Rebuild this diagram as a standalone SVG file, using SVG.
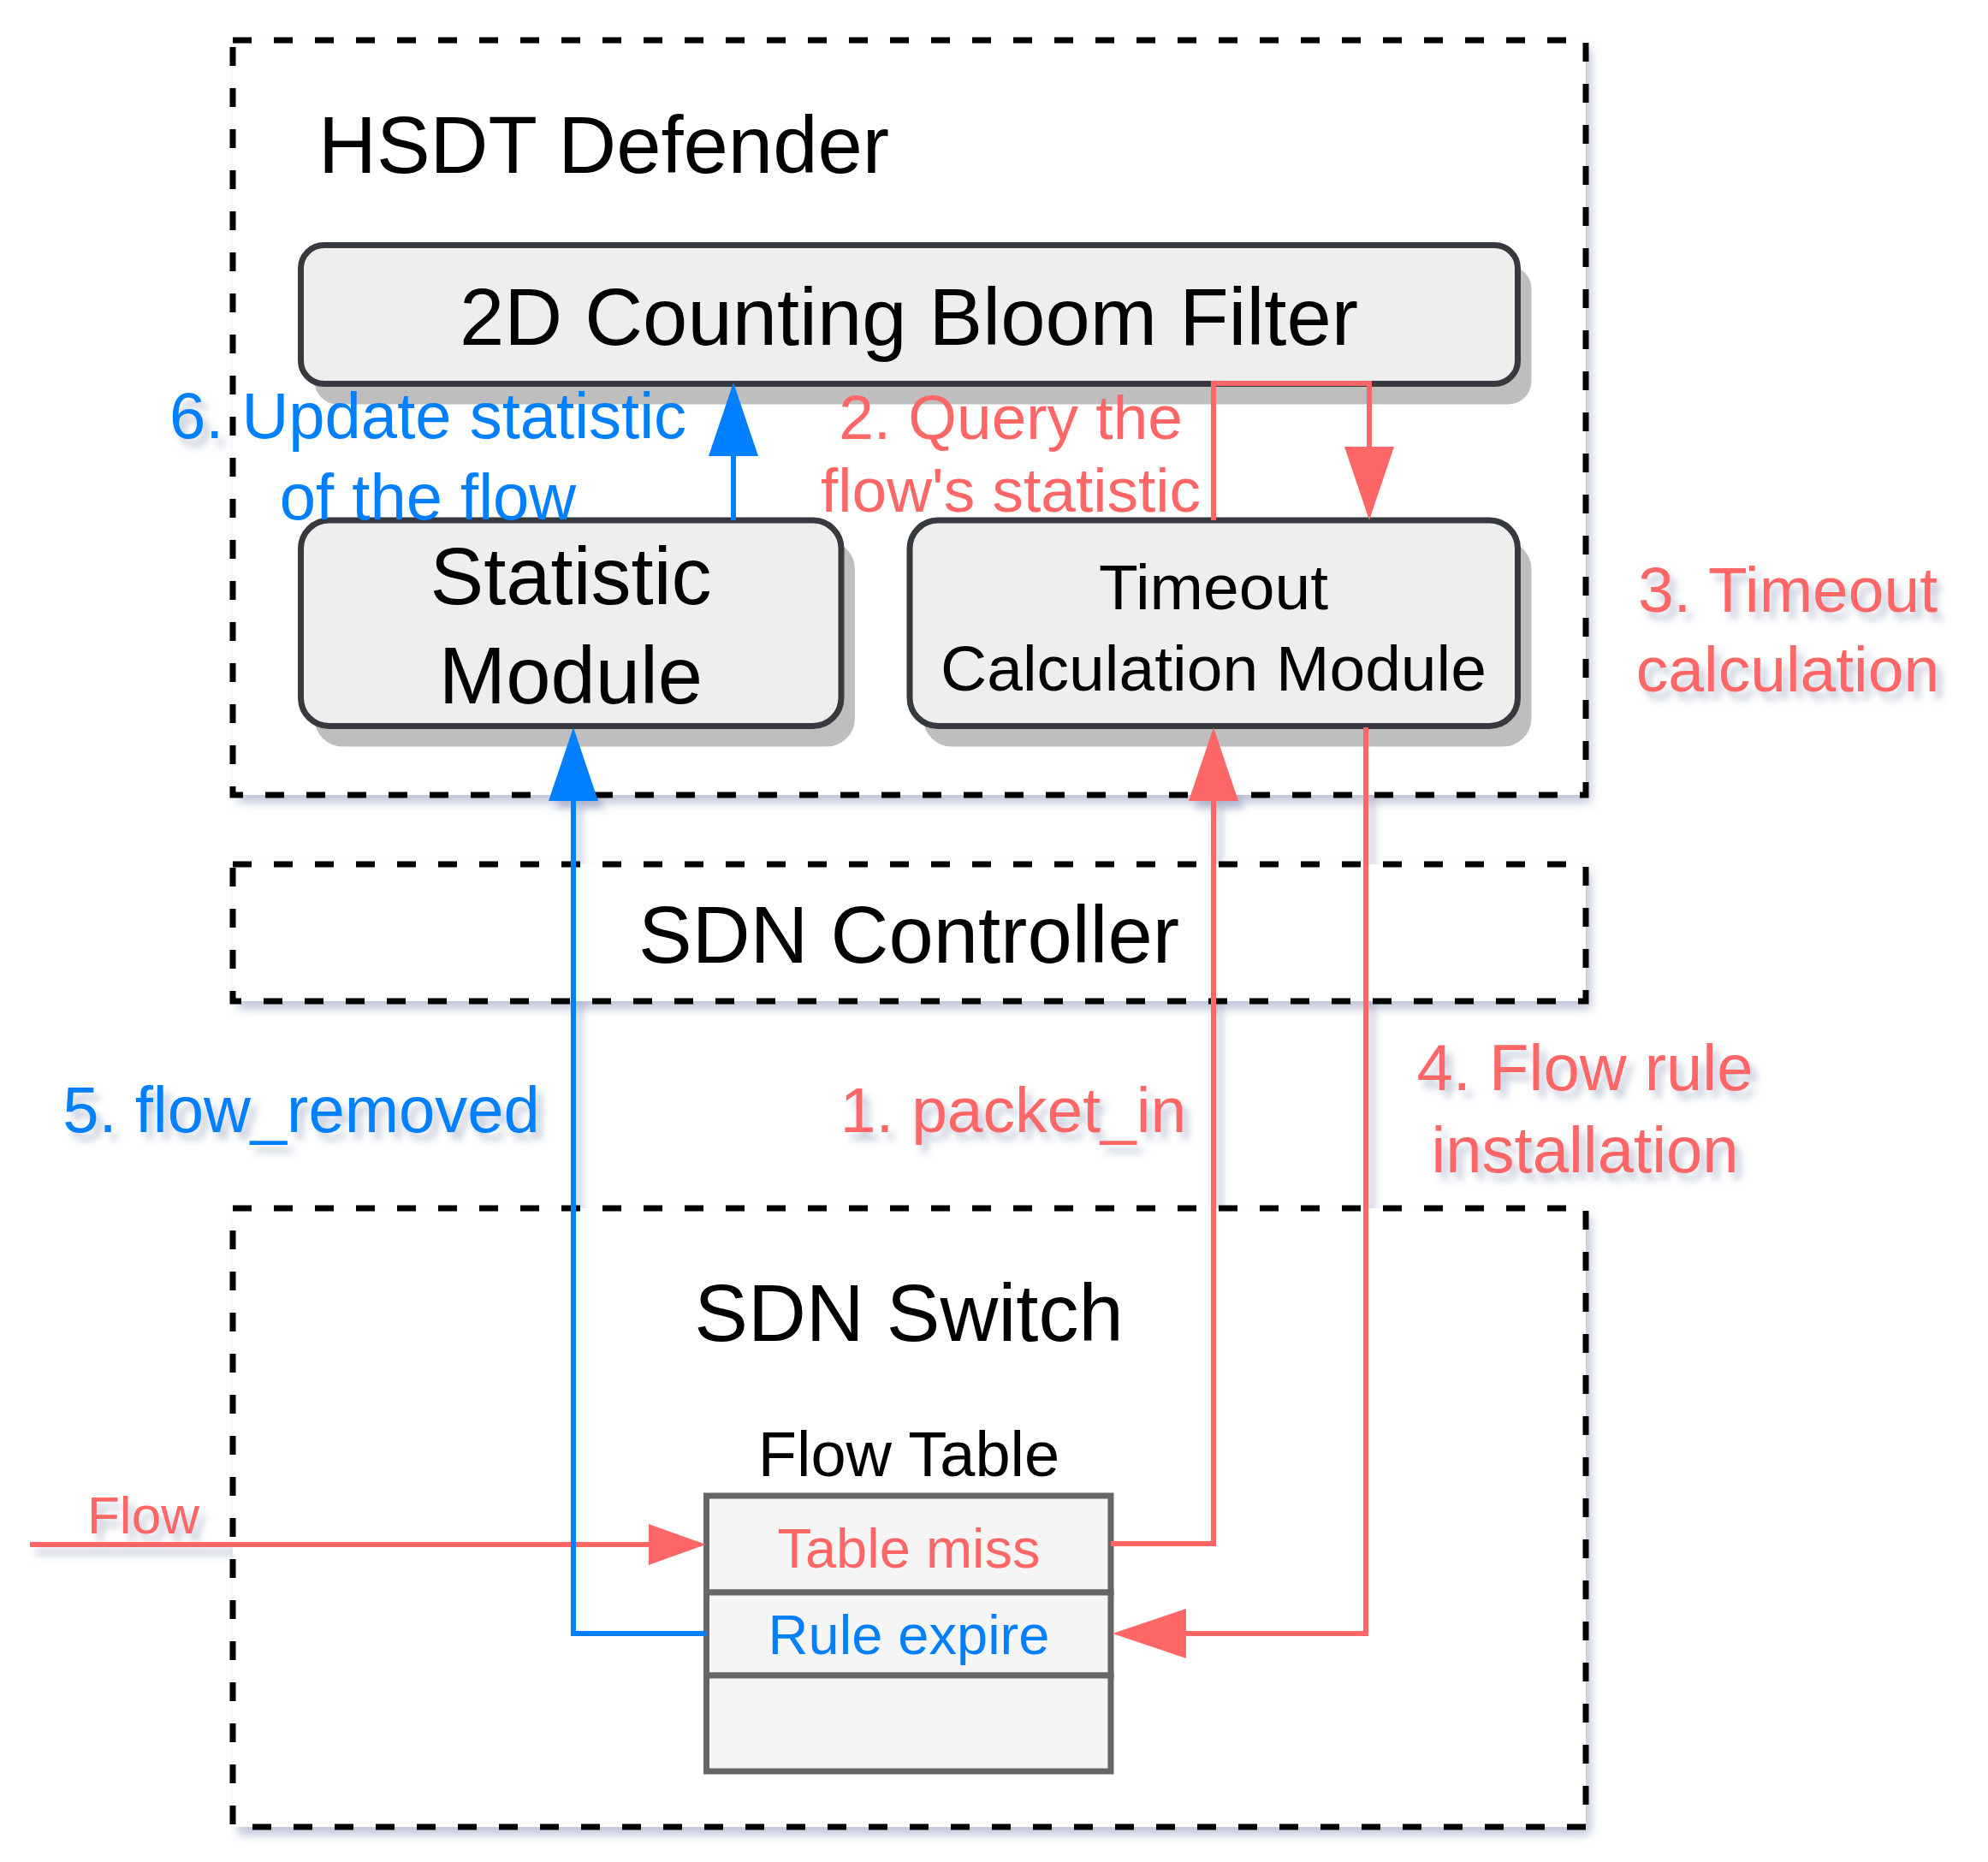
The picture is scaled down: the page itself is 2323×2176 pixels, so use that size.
<svg xmlns="http://www.w3.org/2000/svg" xmlns:xlink="http://www.w3.org/1999/xlink" width="2323" height="2176" viewBox="0 0 2323 2176">
<style>
  text { font-family: "Liberation Sans", Arial, Helvetica, sans-serif; }
  .title { font-size: 94px; fill: #000000; }
  .cont { fill: none; stroke: #000000; stroke-width: 7; stroke-dasharray: 22 26; }
  .contfill { fill: #ffffff; }
  .mod { fill: #eeeeee; stroke: #36393d; stroke-width: 7; }
  .modsh { fill: #bebebe; }
  .cell { fill: #f5f5f5; stroke: #666666; stroke-width: 7; }
  .er { fill: none; stroke: #FF6666; stroke-width: 6; stroke-linejoin: miter; }
  .eb { fill: none; stroke: #007FFF; stroke-width: 6; stroke-linejoin: miter; }
  .lr { fill: #FF6666; }
  .lb { fill: #007FFF; }
</style>
<defs>
  <marker id="ar" markerUnits="userSpaceOnUse" markerWidth="86" markerHeight="58" refX="0" refY="29" orient="auto" overflow="visible">
    <path d="M0,0 L86,29 L0,58 Z" fill="#FF6666"/>
  </marker>
  <marker id="ab" markerUnits="userSpaceOnUse" markerWidth="86" markerHeight="58" refX="0" refY="29" orient="auto" overflow="visible">
    <path d="M0,0 L86,29 L0,58 Z" fill="#007FFF"/>
  </marker>
  <marker id="ars" markerUnits="userSpaceOnUse" markerWidth="67" markerHeight="48" refX="0" refY="24" orient="auto" overflow="visible">
    <path d="M0,0 L67,24 L0,48 Z" fill="#FF6666"/>
  </marker>
  <filter id="soft" x="-10%" y="-10%" width="120%" height="120%">
    <feGaussianBlur in="SourceAlpha" stdDeviation="5"/>
    <feOffset dx="7" dy="9" result="b"/>
    <feFlood flood-color="#8c96b8" flood-opacity="0.55"/>
    <feComposite in2="b" operator="in"/>
  </filter>
  <filter id="boxsh" x="-5%" y="-10%" width="110%" height="125%">
    <feGaussianBlur in="SourceAlpha" stdDeviation="6"/>
    <feOffset dx="6" dy="9" result="b"/>
    <feFlood flood-color="#8c96b8" flood-opacity="0.55"/>
    <feComposite in2="b" operator="in" result="s"/>
    <feMerge><feMergeNode in="s"/><feMergeNode in="SourceGraphic"/></feMerge>
  </filter>
</defs>

<rect x="0" y="0" width="2323" height="2176" fill="#ffffff"/>

<!-- soft shadows of connectors and labels (covered by container fills) -->
<g id="shadows">
  <use xlink:href="#connectors" href="#connectors" filter="url(#soft)"/>
  <use xlink:href="#labels" href="#labels" filter="url(#soft)"/>
</g>

<!-- containers -->
<g id="hsdt">
  <rect class="contfill" x="272" y="47" width="1581" height="882" filter="url(#boxsh)"/>
  <rect class="cont" x="272" y="47" width="1581" height="882"/>
  <text class="title" x="372" y="202">HSDT Defender</text>
</g>
<g id="controller">
  <rect class="contfill" x="272" y="1010" width="1581" height="160" filter="url(#boxsh)"/>
  <rect class="cont" x="272" y="1010" width="1581" height="160"/>
  <text class="title" x="1062" y="1125" text-anchor="middle">SDN Controller</text>
</g>
<g id="switch">
  <rect class="contfill" x="272" y="1412" width="1581" height="723" filter="url(#boxsh)"/>
  <rect class="cont" x="272" y="1412" width="1581" height="723"/>
  <text class="title" x="1062" y="1567" text-anchor="middle">SDN Switch</text>
</g>

<!-- nodes -->
<g id="bloom">
  <rect class="modsh" x="367.5" y="310.5" width="1422" height="162" rx="27"/>
  <rect class="mod" x="351.5" y="286.5" width="1422" height="162" rx="27"/>
  <text class="title" x="1062" y="403" text-anchor="middle">2D Counting Bloom Filter</text>
</g>
<g id="statistic">
  <rect class="modsh" x="367.5" y="632" width="631.5" height="240.5" rx="33"/>
  <rect class="mod" x="351.5" y="608" width="631.5" height="240.5" rx="33"/>
  <text class="title" text-anchor="middle"><tspan x="667" y="706">Statistic</tspan><tspan x="667" y="822">Module</tspan></text>
</g>
<g id="timeout">
  <rect class="modsh" x="1079" y="632" width="710.5" height="240.5" rx="33"/>
  <rect class="mod" x="1063" y="608" width="710.5" height="240.5" rx="33"/>
  <text style="font-size:75px;fill:#000" text-anchor="middle"><tspan x="1418" y="712">Timeout</tspan><tspan x="1418" y="807">Calculation Module</tspan></text>
</g>
<g id="flowtable">
  <text style="font-size:74px;fill:#000" x="1062" y="1725" text-anchor="middle">Flow Table</text>
  <rect class="cell" x="825.5" y="1748" width="472.5" height="113"/>
  <rect class="cell" x="825.5" y="1861" width="472.5" height="97"/>
  <rect class="cell" x="825.5" y="1958" width="472.5" height="112"/>
  <text class="lr" style="font-size:65px" x="1062" y="1832" text-anchor="middle">Table miss</text>
  <text class="lb" style="font-size:65px" x="1062" y="1933" text-anchor="middle">Rule expire</text>
</g>

<!-- connectors -->
<g id="connectors">
  <path class="er" d="M35,1805 H758" marker-end="url(#ars)"/>
  <path class="er" d="M1298,1804 H1418 V936" marker-end="url(#ar)"/>
  <path class="er" d="M1418,608 V448 H1600 V522" marker-end="url(#ar)"/>
  <path class="er" d="M1596,850 V1909 H1386" marker-end="url(#ar)"/>
  <path class="eb" d="M825,1909 H670 V936" marker-end="url(#ab)"/>
  <path class="eb" d="M857,608 V533" marker-end="url(#ab)"/>
</g>

<!-- edge labels -->
<g id="labels">
  <text class="lr" style="font-size:62px" x="102" y="1792">Flow</text>
  <text class="lr" style="font-size:75px" x="1184" y="1323" text-anchor="middle">1. packet_in</text>
  <text class="lr" style="font-size:73px" text-anchor="middle"><tspan x="1181" y="513">2. Query the</tspan><tspan x="1181" y="598">flow's statistic</tspan></text>
  <text class="lr" style="font-size:75px" text-anchor="middle"><tspan x="2089" y="715">3. Timeout</tspan><tspan x="2089" y="808">calculation</tspan></text>
  <text class="lr" style="font-size:76px" text-anchor="middle"><tspan x="1852" y="1274">4. Flow rule</tspan><tspan x="1852" y="1370">installation</tspan></text>
  <text class="lb" style="font-size:76px" x="352" y="1323" text-anchor="middle">5. flow_removed</text>
  <text class="lb" style="font-size:76px" text-anchor="middle"><tspan x="500" y="512">6. Update statistic</tspan><tspan x="500" y="607">of the flow</tspan></text>
</g>
</svg>
